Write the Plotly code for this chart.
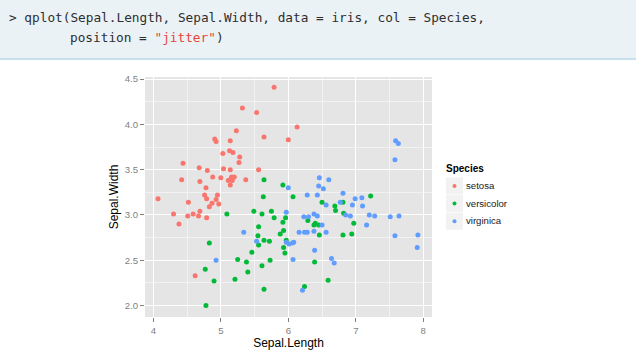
import plotly.graph_objects as go

# ---------------- data (jittered positions) ----------------
species = ["setosa", "versicolor", "virginica"]
species_colors = ["#F8766D", "#00BA38", "#619CFF"]

setosa_x = [5.79, 5.32, 5.53, 6.13, 5.23, 5.64, 6.00, 4.91, 4.93, 5.14, 5.13, 5.18, 5.03, 5.28, 5.27,
            4.44, 4.68, 4.80, 5.04, 5.14, 5.56, 4.88, 5.00, 5.16, 5.20, 4.42, 4.69, 5.37, 5.11, 5.17,
            5.14, 4.78, 4.76, 4.95, 4.07, 4.52, 4.79, 4.93, 4.87, 4.97, 4.83, 4.30, 4.51, 4.59, 4.69,
            4.67, 4.79, 4.38, 4.62, 5.15]
setosa_y = [4.41, 4.18, 4.13, 3.97, 3.93, 3.86, 3.83, 3.84, 3.81, 3.82, 3.71, 3.69, 3.68, 3.64, 3.58,
            3.57, 3.52, 3.49, 3.51, 3.50, 3.50, 3.42, 3.41, 3.42, 3.42, 3.39, 3.37, 3.39, 3.38, 3.38,
            3.33, 3.30, 3.22, 3.22, 3.18, 3.14, 3.18, 3.17, 3.13, 3.12, 3.09, 3.01, 2.99, 3.01, 3.04,
            2.99, 2.97, 2.90, 2.33, 3.40]

versicolor_x = [5.64, 5.92, 5.63, 6.07, 6.50, 5.09, 5.49, 5.61, 5.75, 5.79, 5.56, 5.55, 5.64, 5.72, 5.56,
                5.46, 5.92, 5.93, 5.88, 5.97, 5.93, 5.95, 4.83, 5.25, 5.38, 5.40, 5.73, 5.61, 4.77, 4.90,
                5.21, 5.64, 4.78, 6.24, 6.39, 6.29, 6.40, 6.38, 6.45, 6.46, 6.59, 7.22, 6.69, 6.81, 6.70,
                6.82, 6.97, 6.81, 6.94, 5.96]
versicolor_y = [3.39, 3.33, 3.20, 3.20, 3.14, 3.01, 3.04, 3.01, 3.04, 2.97, 2.87, 2.77, 2.72, 2.71, 2.67,
                2.59, 2.92, 2.83, 2.79, 2.72, 2.64, 2.58, 2.69, 2.51, 2.48, 2.37, 2.50, 2.44, 2.40, 2.27,
                2.29, 2.18, 2.00, 2.21, 2.48, 2.94, 2.91, 2.89, 2.89, 2.78, 2.28, 3.21, 3.10, 3.14, 3.05,
                3.02, 2.91, 2.78, 2.79, 2.97]

virginica_x = [6.00, 6.46, 6.60, 6.45, 6.52, 6.28, 6.43, 6.56, 5.34, 5.53, 5.97, 6.23, 6.30, 6.43, 6.50,
               6.16, 6.24, 6.28, 6.38, 6.56, 5.97, 6.01, 6.06, 6.08, 6.39, 6.07, 4.93, 6.21, 6.64, 6.68,
               7.59, 7.63, 7.58, 6.81, 6.77, 6.99, 7.09, 6.95, 7.10, 6.85, 6.92, 7.20, 7.28, 7.51, 7.64,
               6.38, 7.16, 7.58, 7.92, 7.91]
virginica_y = [3.30, 3.41, 3.39, 3.32, 3.29, 3.22, 3.22, 3.11, 2.81, 2.71, 3.03, 2.98, 2.98, 2.99, 2.89,
               2.81, 2.81, 2.81, 2.82, 2.81, 2.70, 2.68, 2.69, 2.70, 2.61, 2.51, 2.50, 2.17, 2.52, 2.47,
               3.82, 3.79, 3.61, 3.24, 3.14, 3.18, 3.19, 3.11, 3.10, 3.00, 2.99, 3.00, 2.99, 2.98, 2.99,
               3.01, 2.89, 2.77, 2.78, 2.64]

x_tickvals = [4, 5, 6, 7, 8]
x_ticktext = ["4", "5", "6", "7", "8"]
y_tickvals = [2.0, 2.5, 3.0, 3.5, 4.0, 4.5]
y_ticktext = ["2.0", "2.5", "3.0", "3.5", "4.0", "4.5"]
x_minor = [4.5, 5.5, 6.5, 7.5]
y_minor = [2.25, 2.75, 3.25, 3.75, 4.25]

x_title = "Sepal.Length"
y_title = "Sepal.Width"
legend_title = "Species"
code_line1 = "> qplot(Sepal.Length, Sepal.Width, data = iris, col = Species,"
code_line2_a = "position = "
code_line2_b = '"jitter"'
code_line2_c = ")"

# ---------------- layout geometry ----------------
W, H = 636, 356
ML, MR, MT, MB = 145, 204, 77, 39
PW, PH = W - ML - MR, H - MT - MB


def px_x(px):
    return (px - ML) / PW


def px_y(py):
    return (H - MB - py) / PH


fig = go.Figure()
series = [(setosa_x, setosa_y), (versicolor_x, versicolor_y), (virginica_x, virginica_y)]
for name, col, (xs, ys) in zip(species, species_colors, series):
    fig.add_trace(go.Scatter(
        x=xs, y=ys, mode="markers", name=name, showlegend=False,
        marker=dict(color=col, size=5, line=dict(width=0)),
    ))

SANS = "Liberation Sans, Arial, Helvetica, sans-serif"
MONO = "DejaVu Sans Mono, Liberation Mono, monospace"

fig.update_layout(
    width=W, height=H,
    margin=dict(l=ML, r=MR, t=MT, b=MB, pad=0, autoexpand=False),
    paper_bgcolor="white",
    plot_bgcolor="#E5E5E5",
    font=dict(family=SANS, color="black"),
    showlegend=False,
)

axis_common = dict(
    showgrid=True, gridcolor="white", gridwidth=1.2,
    zeroline=False, showline=False,
    ticks="outside", ticklen=4, tickwidth=1, tickcolor="#7F7F7F",
    tickfont=dict(size=9.6, color="#7F7F7F", family=SANS),
)

fig.update_xaxes(
    range=[3.877, 8.129], tickmode="array", tickvals=x_tickvals, ticktext=x_ticktext,
    minor=dict(tickmode="array", tickvals=x_minor, showgrid=True, gridcolor="#F2F2F2", gridwidth=0.6, ticks=""),
    title=dict(text=x_title, font=dict(size=12, color="black", family=SANS), standoff=3),
    **axis_common,
)
fig.update_yaxes(
    range=[1.874, 4.523], tickmode="array", tickvals=y_tickvals, ticktext=y_ticktext,
    minor=dict(tickmode="array", tickvals=y_minor, showgrid=True, gridcolor="#F2F2F2", gridwidth=0.6, ticks=""),
    title=dict(text=y_title, font=dict(size=12, color="black", family=SANS), standoff=3),
    **axis_common,
)

shapes = []
annotations = []

# code box at the top of the slide
shapes.append(dict(type="rect", xref="paper", yref="paper",
                   x0=px_x(-2), x1=px_x(W + 2), y0=px_y(58.5), y1=px_y(-2),
                   fillcolor="#EBF2F6", line=dict(width=0), layer="below"))
shapes.append(dict(type="line", xref="paper", yref="paper",
                   x0=px_x(-2), x1=px_x(W + 2), y0=px_y(59), y1=px_y(59),
                   line=dict(color="#B5D8E6", width=1.5)))

annotations.append(dict(text=code_line1, xref="paper", yref="paper", x=px_x(8.6), y=px_y(17.5),
                        xanchor="left", yanchor="middle", showarrow=False, borderpad=0, borderwidth=0,
                        font=dict(family=MONO, size=12.75, color="#2E2E2E")))
annotations.append(dict(text=code_line2_a + '<span style="color:#E8453C">' + code_line2_b + "</span>" + code_line2_c,
                        xref="paper", yref="paper", x=px_x(70.0), y=px_y(37.5),
                        xanchor="left", yanchor="middle", showarrow=False, borderpad=0, borderwidth=0,
                        font=dict(family=MONO, size=12.75, color="#2E2E2E")))

# legend (ggplot style keys)
annotations.append(dict(text="<b>" + legend_title + "</b>", xref="paper", yref="paper",
                        x=px_x(446), y=px_y(168.5), xanchor="left", yanchor="middle",
                        showarrow=False, borderpad=0, borderwidth=0,
                        font=dict(size=10, color="black", family=SANS)))
key_centers = [185.9, 203.6, 221.3]
for name, col, cy in zip(species, species_colors, key_centers):
    shapes.append(dict(type="rect", xref="paper", yref="paper",
                       x0=px_x(446), x1=px_x(463), y0=px_y(cy + 8.5), y1=px_y(cy - 8.5),
                       fillcolor="#F2F2F2", line=dict(width=0)))
    shapes.append(dict(type="circle", xref="paper", yref="paper",
                       xsizemode="pixel", ysizemode="pixel",
                       xanchor=px_x(454.5), yanchor=px_y(cy),
                       x0=-2, x1=2, y0=-2, y1=2,
                       fillcolor=col, line=dict(width=0)))
    annotations.append(dict(text=name, xref="paper", yref="paper",
                            x=px_x(466), y=px_y(cy - 0.5), xanchor="left", yanchor="middle",
                            showarrow=False, borderpad=0, borderwidth=0,
                            font=dict(size=9.6, color="#1A1A1A", family=SANS)))

fig.update_layout(shapes=shapes, annotations=annotations)

fig.write_html(
    "out.html",
    config={"displayModeBar": False},
    post_script="document.body.style.margin='0px';document.body.style.overflow='hidden';",
)
